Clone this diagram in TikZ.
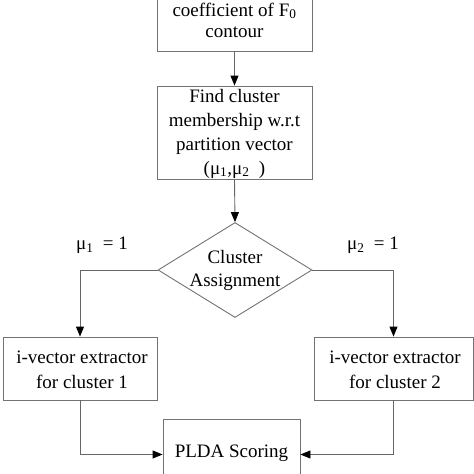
\documentclass[tikz,border=0pt]{standalone}
\usepackage{fontspec}
\setmainfont{Liberation Serif}
\usetikzlibrary{arrows.meta,shapes.geometric}
\begin{document}
\begin{tikzpicture}[x=1pt,y=-1pt,
  box/.style={draw=black!55,line width=0.9pt,inner sep=0pt},
  txt/.style={font=\fontsize{19}{24}\selectfont,align=center,inner sep=0pt},
  conn/.style={draw=black!60,line width=0.9pt,-{Triangle[length=10pt,width=8pt,color=black]}}]
\useasboundingbox (0,0) rectangle (474,474);
\clip (0,0) rectangle (474,474);
\node[box,minimum width=155,minimum height=82] (f0) at (234.5,10) {};
\node[txt,font=\fontsize{19}{21}\selectfont] (f0t) at (234.5,20) {coefficient of F\textsubscript{0}\\contour};
\node[box,minimum width=155,minimum height=93] (mem) at (234.5,132.5) {};
\node[txt] (memt) at (234.5,133.5) {Find cluster\\membership w.r.t\\partition vector\\(μ\textsubscript{1},μ\textsubscript{2}\ \ )};
\node[box,shape=diamond,minimum width=154,minimum height=95] (dia) at (235,270) {};
\node[txt,font=\fontsize{19}{23}\selectfont] (diat) at (235,270) {Cluster\\Assignment};
\node[box,minimum width=154,minimum height=63] (ex1) at (80,368.5) {};
\node[txt,font=\fontsize{19}{25}\selectfont] (ex1t) at (82,370) {i-vector extractor\\for cluster 1};
\node[box,minimum width=159,minimum height=63] (ex2) at (393.5,368.5) {};
\node[txt,font=\fontsize{19}{25}\selectfont] (ex2t) at (395,370) {i-vector extractor\\for cluster 2};
\node[box,minimum width=137,minimum height=71] (plda) at (231.5,454.5) {};
\node[txt] (pldat) at (231.5,453) {PLDA Scoring};
\node[txt] (l1) at (102,245) {μ\textsubscript{1}\ \ = 1};
\node[txt] (l2) at (373,245) {μ\textsubscript{2}\ \ = 1};
\draw[conn] (f0.south) -- (mem.north);
\draw[conn] (mem.south) -- (dia.north);
\draw[conn] (dia.west) -| (ex1.north);
\draw[conn] (dia.east) -| (ex2.north);
\draw[conn] (ex1.south) |- (plda.west);
\draw[conn] (ex2.south) |- (plda.east);
\end{tikzpicture}
\end{document}
